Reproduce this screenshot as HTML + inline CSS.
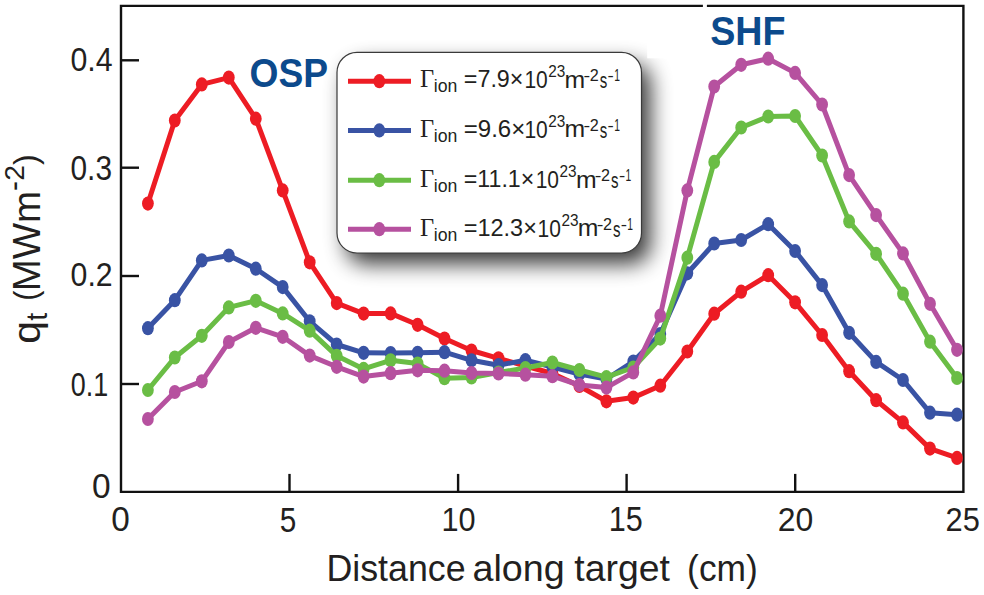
<!DOCTYPE html>
<html><head><meta charset="utf-8"><style>
html,body{margin:0;padding:0;background:#fff;}
svg{display:block;}
.f1{font-family:"Liberation Sans",sans-serif;}
.f2{font-family:"Liberation Serif",serif;}
</style></head><body>
<svg width="984" height="595" viewBox="0 0 984 595">
<rect width="984" height="595" fill="#fff"/>
<path d="M702.9,5.9 H121.0 V491.9 H963.4 V5.9 H706.9" fill="none" stroke="#111" stroke-width="2.4" stroke-linejoin="miter"/><line x1="121.0" y1="60.3" x2="139.0" y2="60.3" stroke="#111" stroke-width="2.4"/><line x1="121.0" y1="167.7" x2="139.0" y2="167.7" stroke="#111" stroke-width="2.4"/><line x1="121.0" y1="276.0" x2="139.0" y2="276.0" stroke="#111" stroke-width="2.4"/><line x1="121.0" y1="384.0" x2="139.0" y2="384.0" stroke="#111" stroke-width="2.4"/><line x1="289.5" y1="491.9" x2="289.5" y2="473.9" stroke="#111" stroke-width="2.4"/><line x1="458.1" y1="491.9" x2="458.1" y2="473.9" stroke="#111" stroke-width="2.4"/><line x1="626.6" y1="491.9" x2="626.6" y2="473.9" stroke="#111" stroke-width="2.4"/><line x1="795.2" y1="491.9" x2="795.2" y2="473.9" stroke="#111" stroke-width="2.4"/>
<polyline points="147.9,203.6 174.8,120.5 201.8,84.4 228.8,77.6 255.8,118.7 282.7,190.4 309.7,262.3 336.7,303.1 363.6,313.6 390.6,313.4 417.6,324.8 444.5,338.5 471.5,350.5 498.5,358.3 525.4,366.0 552.4,373.5 579.4,386.0 606.4,401.3 633.3,397.6 660.3,385.7 687.3,351.5 714.2,313.7 741.2,291.7 768.2,275.2 795.1,302.3 822.1,335.0 849.1,371.2 876.1,400.2 903.0,422.4 930.0,448.6 957.0,457.9" fill="none" stroke="#ED1C24" stroke-width="5.0" stroke-linejoin="round" stroke-linecap="round"/><ellipse cx="147.9" cy="203.6" rx="5.9" ry="7.1" fill="#ED1C24"/><ellipse cx="174.8" cy="120.5" rx="5.9" ry="7.1" fill="#ED1C24"/><ellipse cx="201.8" cy="84.4" rx="5.9" ry="7.1" fill="#ED1C24"/><ellipse cx="228.8" cy="77.6" rx="5.9" ry="7.1" fill="#ED1C24"/><ellipse cx="255.8" cy="118.7" rx="5.9" ry="7.1" fill="#ED1C24"/><ellipse cx="282.7" cy="190.4" rx="5.9" ry="7.1" fill="#ED1C24"/><ellipse cx="309.7" cy="262.3" rx="5.9" ry="7.1" fill="#ED1C24"/><ellipse cx="336.7" cy="303.1" rx="5.9" ry="7.1" fill="#ED1C24"/><ellipse cx="363.6" cy="313.6" rx="5.9" ry="7.1" fill="#ED1C24"/><ellipse cx="390.6" cy="313.4" rx="5.9" ry="7.1" fill="#ED1C24"/><ellipse cx="417.6" cy="324.8" rx="5.9" ry="7.1" fill="#ED1C24"/><ellipse cx="444.5" cy="338.5" rx="5.9" ry="7.1" fill="#ED1C24"/><ellipse cx="471.5" cy="350.5" rx="5.9" ry="7.1" fill="#ED1C24"/><ellipse cx="498.5" cy="358.3" rx="5.9" ry="7.1" fill="#ED1C24"/><ellipse cx="525.4" cy="366.0" rx="5.9" ry="7.1" fill="#ED1C24"/><ellipse cx="552.4" cy="373.5" rx="5.9" ry="7.1" fill="#ED1C24"/><ellipse cx="579.4" cy="386.0" rx="5.9" ry="7.1" fill="#ED1C24"/><ellipse cx="606.4" cy="401.3" rx="5.9" ry="7.1" fill="#ED1C24"/><ellipse cx="633.3" cy="397.6" rx="5.9" ry="7.1" fill="#ED1C24"/><ellipse cx="660.3" cy="385.7" rx="5.9" ry="7.1" fill="#ED1C24"/><ellipse cx="687.3" cy="351.5" rx="5.9" ry="7.1" fill="#ED1C24"/><ellipse cx="714.2" cy="313.7" rx="5.9" ry="7.1" fill="#ED1C24"/><ellipse cx="741.2" cy="291.7" rx="5.9" ry="7.1" fill="#ED1C24"/><ellipse cx="768.2" cy="275.2" rx="5.9" ry="7.1" fill="#ED1C24"/><ellipse cx="795.1" cy="302.3" rx="5.9" ry="7.1" fill="#ED1C24"/><ellipse cx="822.1" cy="335.0" rx="5.9" ry="7.1" fill="#ED1C24"/><ellipse cx="849.1" cy="371.2" rx="5.9" ry="7.1" fill="#ED1C24"/><ellipse cx="876.1" cy="400.2" rx="5.9" ry="7.1" fill="#ED1C24"/><ellipse cx="903.0" cy="422.4" rx="5.9" ry="7.1" fill="#ED1C24"/><ellipse cx="930.0" cy="448.6" rx="5.9" ry="7.1" fill="#ED1C24"/><ellipse cx="957.0" cy="457.9" rx="5.9" ry="7.1" fill="#ED1C24"/><polyline points="147.9,328.2 174.8,300.2 201.8,260.4 228.8,255.5 255.8,268.7 282.7,287.1 309.7,321.3 336.7,344.5 363.6,352.8 390.6,353.0 417.6,352.8 444.5,352.2 471.5,360.3 498.5,365.2 525.4,360.2 552.4,367.0 579.4,374.0 606.4,379.0 633.3,361.5 660.3,334.0 687.3,273.3 714.2,243.5 741.2,240.0 768.2,224.2 795.1,251.0 822.1,285.1 849.1,332.8 876.1,361.9 903.0,380.0 930.0,412.7 957.0,414.7" fill="none" stroke="#3953A4" stroke-width="5.0" stroke-linejoin="round" stroke-linecap="round"/><ellipse cx="147.9" cy="328.2" rx="5.9" ry="7.1" fill="#3953A4"/><ellipse cx="174.8" cy="300.2" rx="5.9" ry="7.1" fill="#3953A4"/><ellipse cx="201.8" cy="260.4" rx="5.9" ry="7.1" fill="#3953A4"/><ellipse cx="228.8" cy="255.5" rx="5.9" ry="7.1" fill="#3953A4"/><ellipse cx="255.8" cy="268.7" rx="5.9" ry="7.1" fill="#3953A4"/><ellipse cx="282.7" cy="287.1" rx="5.9" ry="7.1" fill="#3953A4"/><ellipse cx="309.7" cy="321.3" rx="5.9" ry="7.1" fill="#3953A4"/><ellipse cx="336.7" cy="344.5" rx="5.9" ry="7.1" fill="#3953A4"/><ellipse cx="363.6" cy="352.8" rx="5.9" ry="7.1" fill="#3953A4"/><ellipse cx="390.6" cy="353.0" rx="5.9" ry="7.1" fill="#3953A4"/><ellipse cx="417.6" cy="352.8" rx="5.9" ry="7.1" fill="#3953A4"/><ellipse cx="444.5" cy="352.2" rx="5.9" ry="7.1" fill="#3953A4"/><ellipse cx="471.5" cy="360.3" rx="5.9" ry="7.1" fill="#3953A4"/><ellipse cx="498.5" cy="365.2" rx="5.9" ry="7.1" fill="#3953A4"/><ellipse cx="525.4" cy="360.2" rx="5.9" ry="7.1" fill="#3953A4"/><ellipse cx="552.4" cy="367.0" rx="5.9" ry="7.1" fill="#3953A4"/><ellipse cx="579.4" cy="374.0" rx="5.9" ry="7.1" fill="#3953A4"/><ellipse cx="606.4" cy="379.0" rx="5.9" ry="7.1" fill="#3953A4"/><ellipse cx="633.3" cy="361.5" rx="5.9" ry="7.1" fill="#3953A4"/><ellipse cx="660.3" cy="334.0" rx="5.9" ry="7.1" fill="#3953A4"/><ellipse cx="687.3" cy="273.3" rx="5.9" ry="7.1" fill="#3953A4"/><ellipse cx="714.2" cy="243.5" rx="5.9" ry="7.1" fill="#3953A4"/><ellipse cx="741.2" cy="240.0" rx="5.9" ry="7.1" fill="#3953A4"/><ellipse cx="768.2" cy="224.2" rx="5.9" ry="7.1" fill="#3953A4"/><ellipse cx="795.1" cy="251.0" rx="5.9" ry="7.1" fill="#3953A4"/><ellipse cx="822.1" cy="285.1" rx="5.9" ry="7.1" fill="#3953A4"/><ellipse cx="849.1" cy="332.8" rx="5.9" ry="7.1" fill="#3953A4"/><ellipse cx="876.1" cy="361.9" rx="5.9" ry="7.1" fill="#3953A4"/><ellipse cx="903.0" cy="380.0" rx="5.9" ry="7.1" fill="#3953A4"/><ellipse cx="930.0" cy="412.7" rx="5.9" ry="7.1" fill="#3953A4"/><ellipse cx="957.0" cy="414.7" rx="5.9" ry="7.1" fill="#3953A4"/><polyline points="147.9,390.0 174.8,357.5 201.8,335.8 228.8,307.4 255.8,300.8 282.7,313.4 309.7,330.7 336.7,355.8 363.6,368.9 390.6,360.3 417.6,363.6 444.5,378.2 471.5,377.5 498.5,372.5 525.4,368.0 552.4,362.5 579.4,370.0 606.4,377.2 633.3,367.5 660.3,338.6 687.3,257.7 714.2,161.9 741.2,127.5 768.2,116.5 795.1,116.0 822.1,155.5 849.1,221.4 876.1,253.8 903.0,293.7 930.0,341.7 957.0,378.0" fill="none" stroke="#6ABD45" stroke-width="5.0" stroke-linejoin="round" stroke-linecap="round"/><ellipse cx="147.9" cy="390.0" rx="5.9" ry="7.1" fill="#6ABD45"/><ellipse cx="174.8" cy="357.5" rx="5.9" ry="7.1" fill="#6ABD45"/><ellipse cx="201.8" cy="335.8" rx="5.9" ry="7.1" fill="#6ABD45"/><ellipse cx="228.8" cy="307.4" rx="5.9" ry="7.1" fill="#6ABD45"/><ellipse cx="255.8" cy="300.8" rx="5.9" ry="7.1" fill="#6ABD45"/><ellipse cx="282.7" cy="313.4" rx="5.9" ry="7.1" fill="#6ABD45"/><ellipse cx="309.7" cy="330.7" rx="5.9" ry="7.1" fill="#6ABD45"/><ellipse cx="336.7" cy="355.8" rx="5.9" ry="7.1" fill="#6ABD45"/><ellipse cx="363.6" cy="368.9" rx="5.9" ry="7.1" fill="#6ABD45"/><ellipse cx="390.6" cy="360.3" rx="5.9" ry="7.1" fill="#6ABD45"/><ellipse cx="417.6" cy="363.6" rx="5.9" ry="7.1" fill="#6ABD45"/><ellipse cx="444.5" cy="378.2" rx="5.9" ry="7.1" fill="#6ABD45"/><ellipse cx="471.5" cy="377.5" rx="5.9" ry="7.1" fill="#6ABD45"/><ellipse cx="498.5" cy="372.5" rx="5.9" ry="7.1" fill="#6ABD45"/><ellipse cx="525.4" cy="368.0" rx="5.9" ry="7.1" fill="#6ABD45"/><ellipse cx="552.4" cy="362.5" rx="5.9" ry="7.1" fill="#6ABD45"/><ellipse cx="579.4" cy="370.0" rx="5.9" ry="7.1" fill="#6ABD45"/><ellipse cx="606.4" cy="377.2" rx="5.9" ry="7.1" fill="#6ABD45"/><ellipse cx="633.3" cy="367.5" rx="5.9" ry="7.1" fill="#6ABD45"/><ellipse cx="660.3" cy="338.6" rx="5.9" ry="7.1" fill="#6ABD45"/><ellipse cx="687.3" cy="257.7" rx="5.9" ry="7.1" fill="#6ABD45"/><ellipse cx="714.2" cy="161.9" rx="5.9" ry="7.1" fill="#6ABD45"/><ellipse cx="741.2" cy="127.5" rx="5.9" ry="7.1" fill="#6ABD45"/><ellipse cx="768.2" cy="116.5" rx="5.9" ry="7.1" fill="#6ABD45"/><ellipse cx="795.1" cy="116.0" rx="5.9" ry="7.1" fill="#6ABD45"/><ellipse cx="822.1" cy="155.5" rx="5.9" ry="7.1" fill="#6ABD45"/><ellipse cx="849.1" cy="221.4" rx="5.9" ry="7.1" fill="#6ABD45"/><ellipse cx="876.1" cy="253.8" rx="5.9" ry="7.1" fill="#6ABD45"/><ellipse cx="903.0" cy="293.7" rx="5.9" ry="7.1" fill="#6ABD45"/><ellipse cx="930.0" cy="341.7" rx="5.9" ry="7.1" fill="#6ABD45"/><ellipse cx="957.0" cy="378.0" rx="5.9" ry="7.1" fill="#6ABD45"/><polyline points="147.9,419.0 174.8,392.0 201.8,381.3 228.8,342.0 255.8,327.8 282.7,336.8 309.7,355.6 336.7,366.8 363.6,376.6 390.6,373.2 417.6,370.3 444.5,370.7 471.5,373.0 498.5,373.5 525.4,374.7 552.4,376.2 579.4,385.0 606.4,387.6 633.3,372.4 660.3,315.7 687.3,190.4 714.2,86.5 741.2,64.8 768.2,58.7 795.1,72.9 822.1,104.5 849.1,175.1 876.1,215.1 903.0,253.4 930.0,303.8 957.0,349.8" fill="none" stroke="#B6519F" stroke-width="5.0" stroke-linejoin="round" stroke-linecap="round"/><ellipse cx="147.9" cy="419.0" rx="5.9" ry="7.1" fill="#B6519F"/><ellipse cx="174.8" cy="392.0" rx="5.9" ry="7.1" fill="#B6519F"/><ellipse cx="201.8" cy="381.3" rx="5.9" ry="7.1" fill="#B6519F"/><ellipse cx="228.8" cy="342.0" rx="5.9" ry="7.1" fill="#B6519F"/><ellipse cx="255.8" cy="327.8" rx="5.9" ry="7.1" fill="#B6519F"/><ellipse cx="282.7" cy="336.8" rx="5.9" ry="7.1" fill="#B6519F"/><ellipse cx="309.7" cy="355.6" rx="5.9" ry="7.1" fill="#B6519F"/><ellipse cx="336.7" cy="366.8" rx="5.9" ry="7.1" fill="#B6519F"/><ellipse cx="363.6" cy="376.6" rx="5.9" ry="7.1" fill="#B6519F"/><ellipse cx="390.6" cy="373.2" rx="5.9" ry="7.1" fill="#B6519F"/><ellipse cx="417.6" cy="370.3" rx="5.9" ry="7.1" fill="#B6519F"/><ellipse cx="444.5" cy="370.7" rx="5.9" ry="7.1" fill="#B6519F"/><ellipse cx="471.5" cy="373.0" rx="5.9" ry="7.1" fill="#B6519F"/><ellipse cx="498.5" cy="373.5" rx="5.9" ry="7.1" fill="#B6519F"/><ellipse cx="525.4" cy="374.7" rx="5.9" ry="7.1" fill="#B6519F"/><ellipse cx="552.4" cy="376.2" rx="5.9" ry="7.1" fill="#B6519F"/><ellipse cx="579.4" cy="385.0" rx="5.9" ry="7.1" fill="#B6519F"/><ellipse cx="606.4" cy="387.6" rx="5.9" ry="7.1" fill="#B6519F"/><ellipse cx="633.3" cy="372.4" rx="5.9" ry="7.1" fill="#B6519F"/><ellipse cx="660.3" cy="315.7" rx="5.9" ry="7.1" fill="#B6519F"/><ellipse cx="687.3" cy="190.4" rx="5.9" ry="7.1" fill="#B6519F"/><ellipse cx="714.2" cy="86.5" rx="5.9" ry="7.1" fill="#B6519F"/><ellipse cx="741.2" cy="64.8" rx="5.9" ry="7.1" fill="#B6519F"/><ellipse cx="768.2" cy="58.7" rx="5.9" ry="7.1" fill="#B6519F"/><ellipse cx="795.1" cy="72.9" rx="5.9" ry="7.1" fill="#B6519F"/><ellipse cx="822.1" cy="104.5" rx="5.9" ry="7.1" fill="#B6519F"/><ellipse cx="849.1" cy="175.1" rx="5.9" ry="7.1" fill="#B6519F"/><ellipse cx="876.1" cy="215.1" rx="5.9" ry="7.1" fill="#B6519F"/><ellipse cx="903.0" cy="253.4" rx="5.9" ry="7.1" fill="#B6519F"/><ellipse cx="930.0" cy="303.8" rx="5.9" ry="7.1" fill="#B6519F"/><ellipse cx="957.0" cy="349.8" rx="5.9" ry="7.1" fill="#B6519F"/>
<filter id="sh" x="-20%" y="-20%" width="150%" height="150%"><feGaussianBlur stdDeviation="10.5"/></filter>
<clipPath id="shc"><path d="M0,0 H647.2 V58.2 H984 V595 H0 Z"/></clipPath>
<g clip-path="url(#shc)">
<rect x="346.0" y="63.4" width="304.5" height="200.6" rx="20" fill="#000" opacity="0.78" filter="url(#sh)"/></g>
<rect x="337.0" y="52.4" width="304.5" height="200.6" rx="20" fill="#fff" stroke="#3a3a3a" stroke-width="1.2"/><line x1="348" y1="81.2" x2="411" y2="81.2" stroke="#ED1C24" stroke-width="5.0"/><ellipse cx="379.3" cy="81.2" rx="5.9" ry="7.1" fill="#ED1C24"/><line x1="348" y1="130.4" x2="411" y2="130.4" stroke="#3953A4" stroke-width="5.0"/><ellipse cx="379.3" cy="130.4" rx="5.9" ry="7.1" fill="#3953A4"/><line x1="348" y1="180.2" x2="411" y2="180.2" stroke="#6ABD45" stroke-width="5.0"/><ellipse cx="379.3" cy="180.2" rx="5.9" ry="7.1" fill="#6ABD45"/><line x1="348" y1="229.2" x2="411" y2="229.2" stroke="#B6519F" stroke-width="5.0"/><ellipse cx="379.3" cy="229.2" rx="5.9" ry="7.1" fill="#B6519F"/>
<text class="f1" transform="translate(70.51,70.87) scale(0.8911,0.9958)" font-size="34" fill="#231F20">0.4</text>
<text class="f1" transform="translate(70.53,180.07) scale(0.8774,1.0042)" font-size="34" fill="#231F20">0.3</text>
<text class="f1" transform="translate(70.61,285.97) scale(0.8910,0.9875)" font-size="34" fill="#231F20">0.2</text>
<text class="f1" transform="translate(70.74,395.77) scale(0.7917,0.9875)" font-size="34" fill="#231F20">0.1</text>
<text class="f1" transform="translate(91.89,498.46) scale(0.9857,1.0125)" font-size="34" fill="#231F20">0</text>
<text class="f1" transform="translate(111.19,531.26) scale(0.9796,1.0167)" font-size="34" fill="#231F20">0</text>
<text class="f1" transform="translate(279.83,531.76) scale(0.8750,1.0225)" font-size="34" fill="#231F20">5</text>
<text class="f1" transform="translate(441.49,531.27) scale(0.9030,1.0042)" font-size="34" fill="#231F20">10</text>
<text class="f1" transform="translate(608.80,531.26) scale(0.9000,1.0183)" font-size="34" fill="#231F20">15</text>
<text class="f1" transform="translate(777.73,531.27) scale(0.9404,1.0042)" font-size="34" fill="#231F20">20</text>
<text class="f1" transform="translate(945.59,531.27) scale(0.9058,1.0042)" font-size="34" fill="#231F20">25</text>
<text class="f1" transform="translate(326.44,581.00) scale(0.9538,1.0000)" font-size="37.5" fill="#231F20">Distance</text>
<text class="f1" transform="translate(472.42,581.00) scale(1.0061,1.0000)" font-size="37.5" fill="#231F20">along</text>
<text class="f1" transform="translate(574.34,581.00) scale(0.9958,1.0000)" font-size="37.5" fill="#231F20">target</text>
<text class="f1" transform="translate(687.10,581.00) scale(0.9441,1.0000)" font-size="37.5" fill="#231F20">(cm)</text>
<text class="f1" transform="translate(249.52,87.48) scale(0.8860,0.9733)" font-size="42" font-weight="bold" fill="#0C4A8C">OSP</text>
<text class="f1" transform="translate(710.22,45.38) scale(0.8866,0.9659)" font-size="42.5" font-weight="bold" fill="#0C4A8C">SHF</text>
<text class="f1" transform="translate(39.71,343.78) rotate(-90) scale(1.0706,1.0107)" font-size="38" fill="#231F20">q</text>
<text class="f1" transform="translate(47.44,320.84) rotate(-90) scale(1.0227,1.0833)" font-size="28" fill="#231F20">t</text>
<text class="f1" transform="translate(37.25,300.77) rotate(-90) scale(0.8000,0.8943)" font-size="38" fill="#231F20">(</text>
<text class="f1" transform="translate(39.80,291.24) rotate(-90) scale(1.0121,1.0154)" font-size="38" fill="#231F20">MWm</text>
<text class="f1" transform="translate(24.46,191.02) rotate(-90) scale(1.0650,1.1143)" font-size="28" fill="#231F20">-</text>
<text class="f1" transform="translate(23.90,180.85) rotate(-90) scale(1.0105,1.0086)" font-size="28" fill="#231F20">2</text>
<text class="f1" transform="translate(37.42,164.98) rotate(-90) scale(0.8400,0.8972)" font-size="38" fill="#231F20">)</text>
<text class="f2" transform="translate(419.96,87.40) scale(0.9600,1.0080)" font-size="25.5" fill="#231F20">Γ</text>
<text class="f1" transform="translate(433.79,92.40) scale(0.9831,0.9846)" font-size="18.0" fill="#231F20">ion</text>
<text class="f1" transform="translate(463.80,87.40) scale(0.9720,1.0059)" font-size="24.0" fill="#231F20">=7.9×</text>
<text class="f1" transform="translate(524.38,87.70) scale(0.9130,1.0277)" font-size="23.0" fill="#231F20">10</text>
<text class="f1" transform="translate(548.18,76.90) scale(0.9294,1.0543)" font-size="16.5" fill="#231F20">23</text>
<text class="f1" transform="translate(564.58,87.50) scale(1.0320,1.0026)" font-size="24.0" fill="#231F20">m</text>
<text class="f1" transform="translate(583.47,80.77) scale(1.2500,0.9750)" font-size="16.0" fill="#231F20">-</text>
<text class="f1" transform="translate(589.73,81.20) scale(1.0091,1.0818)" font-size="16.0" fill="#231F20">2</text>
<text class="f1" transform="translate(599.74,87.80) scale(0.6828,0.9771)" font-size="22.0" fill="#231F20">s</text>
<text class="f1" transform="translate(607.62,80.77) scale(1.1750,0.9750)" font-size="16.0" fill="#231F20">-</text>
<text class="f1" transform="translate(614.14,80.80) scale(0.6450,1.0455)" font-size="16.0" fill="#231F20">1</text>
<text class="f2" transform="translate(419.96,137.20) scale(0.9600,1.0080)" font-size="25.5" fill="#231F20">Γ</text>
<text class="f1" transform="translate(433.79,142.20) scale(0.9831,0.9846)" font-size="18.0" fill="#231F20">ion</text>
<text class="f1" transform="translate(463.77,137.20) scale(1.0011,1.0059)" font-size="24.0" fill="#231F20">=9.6×</text>
<text class="f1" transform="translate(524.38,137.50) scale(0.9130,1.0277)" font-size="23.0" fill="#231F20">10</text>
<text class="f1" transform="translate(548.18,126.70) scale(0.9294,1.0543)" font-size="16.5" fill="#231F20">23</text>
<text class="f1" transform="translate(564.58,137.30) scale(1.0320,1.0026)" font-size="24.0" fill="#231F20">m</text>
<text class="f1" transform="translate(583.47,130.57) scale(1.2500,0.9750)" font-size="16.0" fill="#231F20">-</text>
<text class="f1" transform="translate(589.73,131.00) scale(1.0091,1.0818)" font-size="16.0" fill="#231F20">2</text>
<text class="f1" transform="translate(599.74,137.60) scale(0.6828,0.9771)" font-size="22.0" fill="#231F20">s</text>
<text class="f1" transform="translate(607.62,130.57) scale(1.1750,0.9750)" font-size="16.0" fill="#231F20">-</text>
<text class="f1" transform="translate(614.14,130.60) scale(0.6450,1.0455)" font-size="16.0" fill="#231F20">1</text>
<text class="f2" transform="translate(419.96,187.40) scale(0.9600,1.0080)" font-size="25.5" fill="#231F20">Γ</text>
<text class="f1" transform="translate(433.79,192.40) scale(0.9831,0.9846)" font-size="18.0" fill="#231F20">ion</text>
<text class="f1" transform="translate(463.81,187.40) scale(0.9671,1.0260)" font-size="24.0" fill="#231F20">=11.1×</text>
<text class="f1" transform="translate(535.68,187.70) scale(0.9130,1.0277)" font-size="23.0" fill="#231F20">10</text>
<text class="f1" transform="translate(559.48,176.90) scale(0.9294,1.0543)" font-size="16.5" fill="#231F20">23</text>
<text class="f1" transform="translate(575.88,187.50) scale(1.0320,1.0026)" font-size="24.0" fill="#231F20">m</text>
<text class="f1" transform="translate(594.77,180.77) scale(1.2500,0.9750)" font-size="16.0" fill="#231F20">-</text>
<text class="f1" transform="translate(601.03,181.20) scale(1.0091,1.0818)" font-size="16.0" fill="#231F20">2</text>
<text class="f1" transform="translate(611.04,187.80) scale(0.6828,0.9771)" font-size="22.0" fill="#231F20">s</text>
<text class="f1" transform="translate(618.92,180.77) scale(1.1750,0.9750)" font-size="16.0" fill="#231F20">-</text>
<text class="f1" transform="translate(625.44,180.80) scale(0.6450,1.0455)" font-size="16.0" fill="#231F20">1</text>
<text class="f2" transform="translate(419.96,236.20) scale(0.9600,1.0080)" font-size="25.5" fill="#231F20">Γ</text>
<text class="f1" transform="translate(433.79,241.20) scale(0.9831,0.9846)" font-size="18.0" fill="#231F20">ion</text>
<text class="f1" transform="translate(463.80,236.20) scale(0.9781,1.0059)" font-size="24.0" fill="#231F20">=12.3×</text>
<text class="f1" transform="translate(537.58,236.50) scale(0.9130,1.0277)" font-size="23.0" fill="#231F20">10</text>
<text class="f1" transform="translate(561.38,225.70) scale(0.9294,1.0543)" font-size="16.5" fill="#231F20">23</text>
<text class="f1" transform="translate(577.78,236.30) scale(1.0320,1.0026)" font-size="24.0" fill="#231F20">m</text>
<text class="f1" transform="translate(596.67,229.57) scale(1.2500,0.9750)" font-size="16.0" fill="#231F20">-</text>
<text class="f1" transform="translate(602.93,230.00) scale(1.0091,1.0818)" font-size="16.0" fill="#231F20">2</text>
<text class="f1" transform="translate(612.94,236.60) scale(0.6828,0.9771)" font-size="22.0" fill="#231F20">s</text>
<text class="f1" transform="translate(620.82,229.57) scale(1.1750,0.9750)" font-size="16.0" fill="#231F20">-</text>
<text class="f1" transform="translate(627.34,229.60) scale(0.6450,1.0455)" font-size="16.0" fill="#231F20">1</text>
</svg>
</body></html>
